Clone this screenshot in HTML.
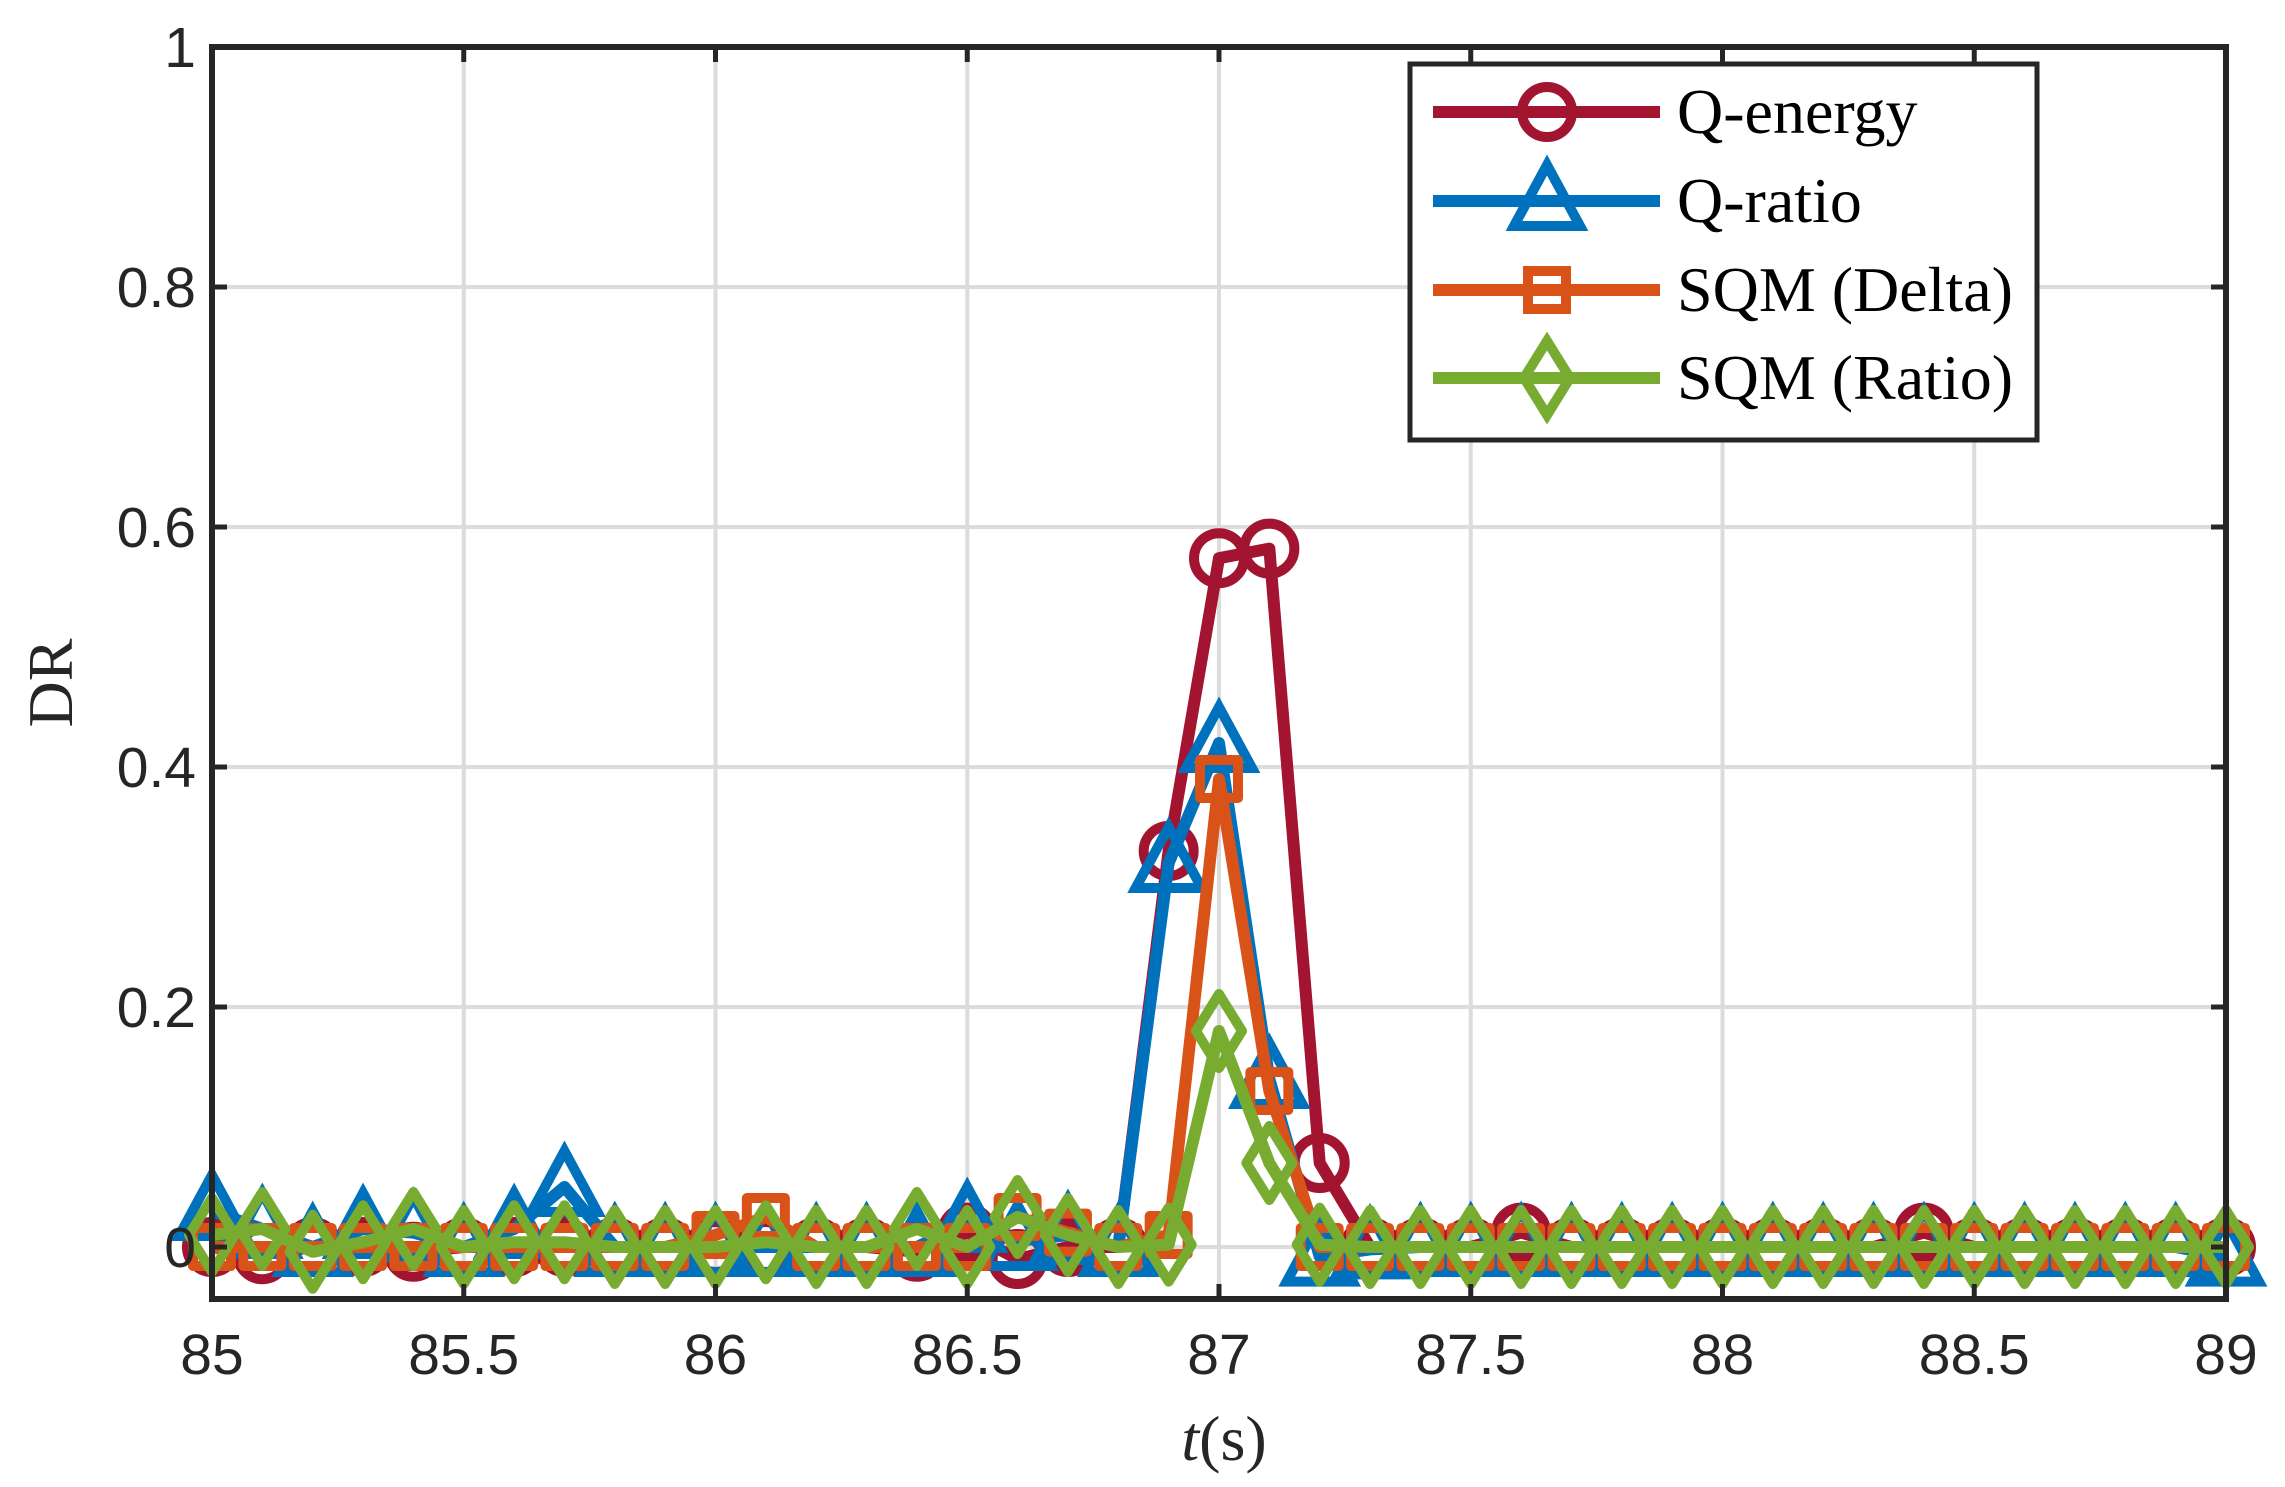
<!DOCTYPE html>
<html><head><meta charset="utf-8"><style>
html,body{margin:0;padding:0;background:#fff;}
svg{display:block;}
</style></head><body>
<svg id="s" width="2285" height="1487" viewBox="0 0 2285 1487" xmlns="http://www.w3.org/2000/svg">
<rect width="2285" height="1487" fill="#fff"/>
<g id="grid" stroke="#dcdcdc" stroke-width="4"></g>
<g id="data" fill="none" stroke-width="12" stroke-linejoin="round"></g>
<rect x="212" y="47" width="2014" height="1252" fill="none" stroke="#262626" stroke-width="6"/>
<g id="ticks" stroke="#262626" stroke-width="5"></g>
<g id="lab" font-family="Liberation Sans, Arial, sans-serif" font-size="57" fill="#262626"></g>
<text x="1224" y="1460" text-anchor="middle" font-family="Liberation Serif, serif" font-size="64" fill="#262626"><tspan font-style="italic">t</tspan>(s)</text>
<text transform="translate(72,683) rotate(-90)" text-anchor="middle" font-family="Liberation Serif, serif" font-size="64" fill="#262626">DR</text>
<g id="leg">
<rect x="1410" y="64" width="627" height="376" fill="#fff" stroke="#262626" stroke-width="5"/>
</g>
</svg>
<script>
const NS="http://www.w3.org/2000/svg";
function el(p,t,a,txt){const e=document.createElementNS(NS,t);for(const k in a)e.setAttribute(k,a[k]);if(txt!==undefined)e.textContent=txt;document.getElementById(p).appendChild(e);return e;}
const X=t=>212+(t-85)*503.5, Y=v=>1247-1200*v;
for(let i=0;i<=8;i++){const t=85+i*0.5,x=X(t);
 if(i>0&&i<8)el('grid','line',{x1:x,y1:47,x2:x,y2:1299});
 el('ticks','line',{x1:x,y1:1299,x2:x,y2:1284});el('ticks','line',{x1:x,y1:47,x2:x,y2:62});
 el('lab','text',{x:x,y:1374,'text-anchor':'middle'},String(t));}
for(let i=0;i<=5;i++){const v=i*0.2,y=Y(v);
 if(i<5)el('grid','line',{x1:212,y1:y,x2:2226,y2:y});
 el('ticks','line',{x1:212,y1:y,x2:227,y2:y});el('ticks','line',{x1:2226,y1:y,x2:2211,y2:y});
 el('lab','text',{x:196,y:y+20,'text-anchor':'end'},i==0?'0':i==5?'1':v.toFixed(1));}
const T=[];for(let i=0;i<=40;i++)T.push(85+i*0.1);
function z(over){const a=T.map(()=>0);for(const k in over)a[Math.round((k-85)*10)]=over[k];return a;}
const S=[
 {c:'#A2142F',m:'o',d:z({85.1:-0.006,85.4:-0.004,86.4:-0.004,86.5:0.012,86.6:-0.01,86.9:0.33,87.0:0.574,87.1:0.582,87.2:0.07,87.6:0.012,88.4:0.012})},
 {c:'#0072BD',m:'^',d:z({85:0.03,85.1:0.015,85.3:0.015,85.4:0.012,85.6:0.015,85.7:0.05,86.5:0.02,86.6:0.005,86.7:0.01,86.9:0.32,87.0:0.42,87.1:0.14,87.2:-0.008,87.3:-0.002,89:-0.008})},
 {c:'#D95319',m:'s',d:z({86.0:0.01,86.1:0.025,86.6:0.025,86.7:0.012,86.9:0.01,87.0:0.39,87.1:0.13})},
 {c:'#77AC30',m:'d',d:z({85:0.01,85.1:0.015,85.2:-0.004,85.3:0.004,85.4:0.015,85.6:0.004,85.7:0.004,86.1:0.004,86.4:0.015,86.6:0.025,86.7:0.01,86.9:0.002,87.0:0.18,87.1:0.07,87.2:0.002})}
];
function marker(g,m,x,y,c){
 const w=10;
 if(m=='o')el(g,'circle',{cx:x,cy:y,r:25,stroke:c,'stroke-width':w,fill:'none'});
 if(m=='^')el(g,'polygon',{points:`${x},${y-36} ${x+33},${y+25} ${x-33},${y+25}`,stroke:c,'stroke-width':w,fill:'none','stroke-linejoin':'miter'});
 if(m=='s')el(g,'rect',{x:x-19,y:y-19,width:38,height:38,stroke:c,'stroke-width':w,fill:'none'});
 if(m=='d')el(g,'polygon',{points:`${x},${y-37} ${x+23},${y} ${x},${y+37} ${x-23},${y}`,stroke:c,'stroke-width':w,fill:'none'});
}
S.forEach(s=>{
 el('data','polyline',{points:T.map((t,i)=>X(t)+','+Y(s.d[i])).join(' '),stroke:s.c});
 T.forEach((t,i)=>marker('data',s.m,X(t),Y(s.d[i]),s.c));
});
const names=['Q-energy','Q-ratio','SQM (Delta)','SQM (Ratio)'],ry=[112,201,290,378];
S.forEach((s,i)=>{
 el('leg','line',{x1:1433,y1:ry[i],x2:1660,y2:ry[i],stroke:s.c,'stroke-width':12});
 marker('leg',s.m,1547,ry[i],s.c);
 el('leg','text',{x:1677,y:ry[i]+21,'font-family':'Liberation Serif, serif','font-size':64,fill:'#000'},names[i]);
});
</script>
</body></html>
